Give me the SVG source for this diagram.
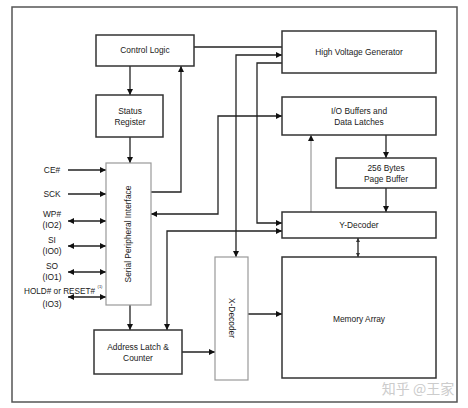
<svg xmlns="http://www.w3.org/2000/svg" width="468" height="408" viewBox="0 0 468 408">
<style>
text{font-family:"Liberation Sans",Arial,sans-serif;font-size:8.4px;fill:#1a1a1a;text-anchor:middle}
.box{fill:#fff;stroke:#333;stroke-width:1.5}
.gbox{fill:#fff;stroke:#999;stroke-width:1.2}
.ln{fill:none;stroke:#222;stroke-width:1.3}
.gl{fill:none;stroke:#999;stroke-width:1.2}
</style>
<defs>
<marker id="a" viewBox="0 0 10 10" refX="10" refY="5" markerUnits="userSpaceOnUse" markerWidth="7" markerHeight="6" orient="auto-start-reverse"><path d="M0,0 L10,5 L0,10 z" fill="#111"/></marker>
<marker id="s" viewBox="0 0 10 10" refX="10" refY="5" markerUnits="userSpaceOnUse" markerWidth="5" markerHeight="4" orient="auto-start-reverse"><path d="M0,0 L10,5 L0,10 z" fill="#333"/></marker>
</defs>
<rect width="468" height="408" fill="#fff"/>
<rect x="12" y="7" width="445" height="395" fill="none" stroke="#555" stroke-width="1.5"/>

<g id="connectors">
<path class="ln" d="M130,66 V95" marker-end="url(#a)"/>
<path class="ln" d="M130,137 V163" marker-end="url(#a)"/>
<path class="ln" d="M151,192 H181 V66" marker-end="url(#a)"/>
<path class="ln" d="M194,47 H282"/>
<path class="ln" d="M236,257 V55 H282" marker-start="url(#a)" marker-end="url(#a)"/>
<path class="ln" d="M282,63 H257 V223 H282" marker-end="url(#a)"/>
<path class="ln" d="M151,214 H218 V116 H282" marker-start="url(#a)" marker-end="url(#a)"/>
<path class="ln" d="M167,330 V231 H282" marker-start="url(#a)" marker-end="url(#a)"/>
<path class="ln" d="M130,305 V330" marker-end="url(#a)"/>
<path class="ln" d="M182,352 H215" marker-end="url(#a)"/>
<path class="ln" d="M248,314 H282" marker-end="url(#a)"/>
<path class="ln" d="M386,135 V158" marker-end="url(#a)"/>
<path class="ln" d="M386,188 V212" marker-end="url(#a)"/>
<path class="gl" d="M311,212 V135" marker-end="url(#a)"/>
<path class="ln" d="M358,238 V257" stroke-width="1" marker-start="url(#s)" marker-end="url(#s)"/>
<path class="ln" d="M68,170 H106" marker-end="url(#a)"/>
<path class="ln" d="M68,194 H106" marker-end="url(#a)"/>
<path class="ln" d="M68,221 H106" marker-start="url(#a)" marker-end="url(#a)"/>
<path class="ln" d="M68,246 H106" marker-start="url(#a)" marker-end="url(#a)"/>
<path class="ln" d="M68,272 H106" marker-start="url(#a)" marker-end="url(#a)"/>
<path class="ln" d="M68,297 H106" marker-start="url(#a)" marker-end="url(#a)"/>
</g>

<g id="control-logic"><rect class="box" x="96" y="35" width="98" height="31"/><text x="145" y="53">Control Logic</text></g>
<g id="status-register"><rect class="box" x="96" y="95" width="67" height="42"/><text x="130" y="114">Status</text><text x="130" y="125">Register</text></g>
<g id="spi"><rect class="gbox" x="106" y="163" width="45" height="142"/><text transform="translate(131,234) rotate(-90)">Serial Peripheral Interface</text></g>
<g id="address-latch"><rect class="box" x="94" y="330" width="88" height="44"/><text x="138" y="350">Address Latch &amp;</text><text x="138" y="361">Counter</text></g>
<g id="x-decoder"><rect class="gbox" x="215" y="257" width="33" height="123"/><text transform="translate(229,318) rotate(90)">X-Decoder</text></g>
<g id="hvg"><rect class="box" x="282" y="31" width="154" height="42"/><text x="359" y="55">High Voltage Generator</text></g>
<g id="io-buffers"><rect class="box" x="282" y="97" width="154" height="38"/><text x="359" y="114">I/O Buffers and</text><text x="359" y="125">Data Latches</text></g>
<g id="page-buffer"><rect class="box" x="336" y="158" width="100" height="30"/><text x="386" y="171">256 Bytes</text><text x="386" y="182">Page Buffer</text></g>
<g id="y-decoder"><rect class="box" x="282" y="212" width="154" height="26"/><text x="359" y="228">Y-Decoder</text></g>
<g id="memory-array"><rect class="box" x="282" y="257" width="154" height="121"/><text x="359" y="322">Memory Array</text></g>

<g id="pins">
<text x="52" y="173">CE#</text>
<text x="52" y="197">SCK</text>
<text x="52" y="217">WP#</text>
<text x="52" y="228">(IO2)</text>
<text x="52" y="243">SI</text>
<text x="52" y="254">(IO0)</text>
<text x="52" y="269">SO</text>
<text x="52" y="280">(IO1)</text>
<text x="24" y="294" style="text-anchor:start" textLength="71" lengthAdjust="spacingAndGlyphs">HOLD# or RESET#</text>
<text x="100" y="288" style="font-size:4px">(1)</text>
<text x="52" y="307">(IO3)</text>
</g>
<text x="418" y="394" style="font-family:'Noto Sans CJK SC',sans-serif;font-size:14px;fill:#ccc">知乎 @王家</text>
</svg>
